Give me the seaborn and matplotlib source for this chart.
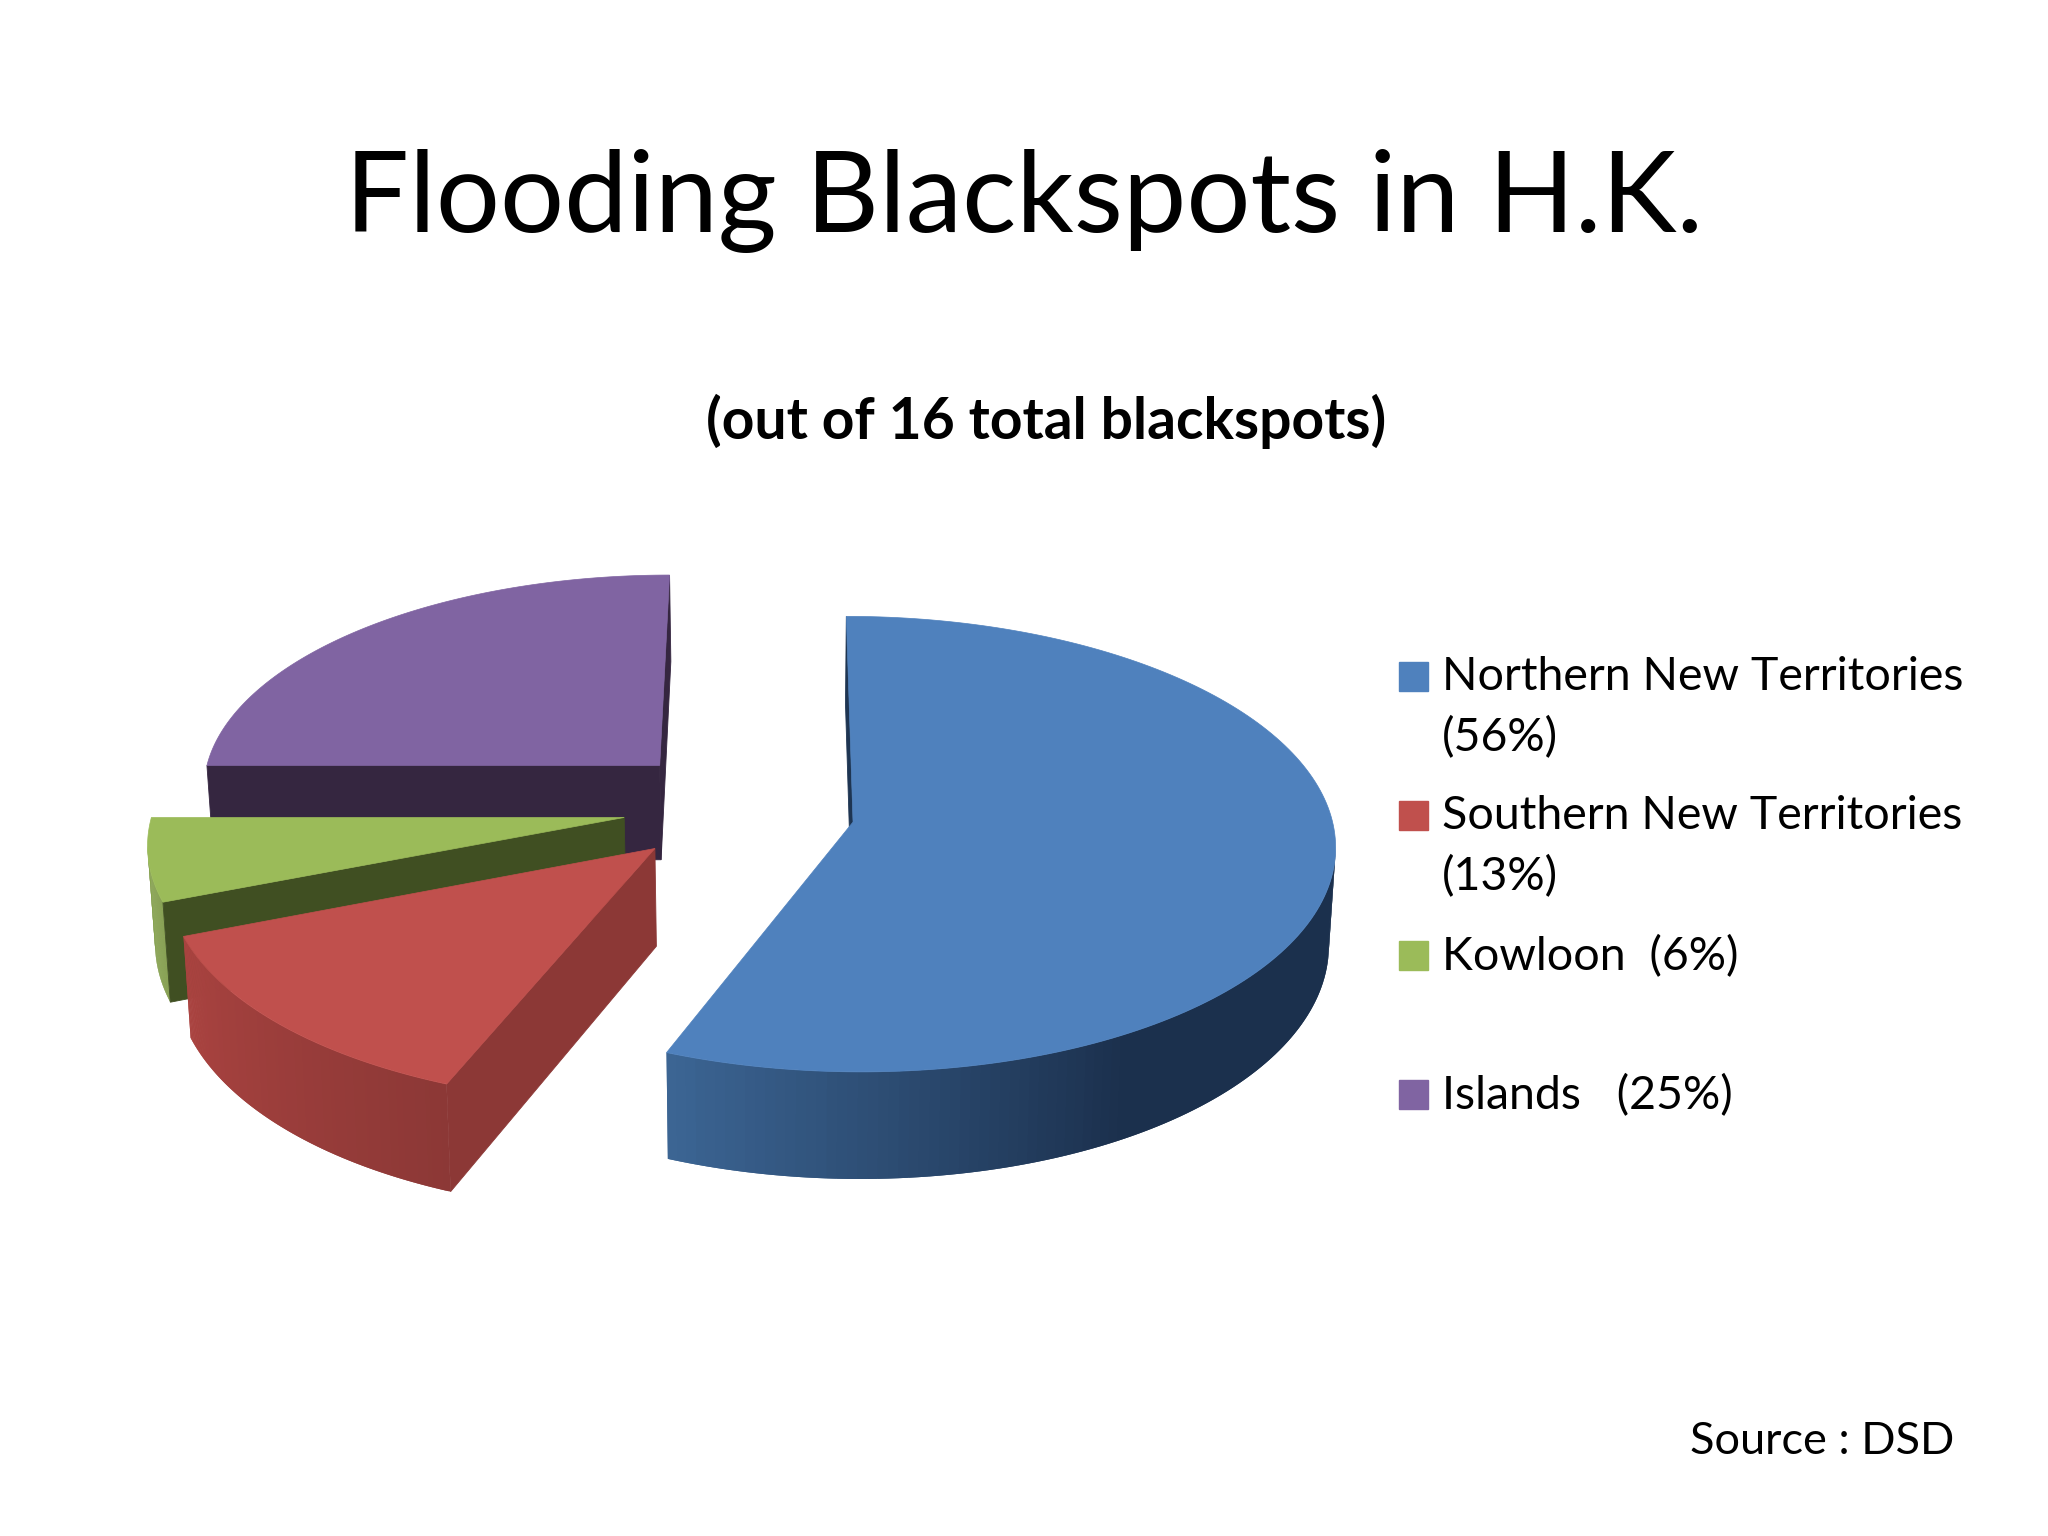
import numpy as np
import matplotlib
matplotlib.use("Agg")
import matplotlib.pyplot as plt
from matplotlib.patches import Rectangle, Patch
from matplotlib.legend_handler import HandlerPatch
import seaborn as sns

# ---- data ----
regions = ["Northern New Territories", "Southern New Territories", "Kowloon", "Islands"]
shares = [56, 13, 6, 25]
legend_labels = ["Northern New Territories\n(56%)", "Southern New Territories\n(13%)",
                 "Kowloon  (6%)\n ", "Islands   (25%)\n "]
title_text = "Flooding Blackspots in H.K."
subtitle_text = "(out of 16 total blackspots)"
source_text = "Source : DSD"

# ---- style ----
sns.set_theme(style="white")
plt.rcParams["font.family"] = ["Lato", "DejaVu Sans"]
top_colors = sns.color_palette(["#4F81BD", "#C0504D", "#9BBB59", "#8064A2"])
side_colors = ["#1E3552", "#8C3836", "#404F22", "#352640"]
rim_light = ["#3C6594", "#AA4340", "#8DAB50", "#5F4A7A"]
rim_dark = ["#1B304D", "#8C3836", "#7F9A48", "#5F4A7A"]
# exploded slice offsets and radius scale, in pie radii
explode_x = [0.157, -0.25, -0.317, -0.249]
explode_y = [0.0, 0.115, -0.02, -0.255]
radius_scale = [0.992, 0.99, 0.98, 0.96]
draw_order = [3, 2, 1, 0]

# perspective model, in 1568x1176 canvas units
VX, VY = 595.0, -1150.0
R_WORLD = 0.208
INV0, INVK = 0.000562, 0.000055
CAM_Y = INV0 / INVK
THICK = 0.0416
BOTTOM_X = 0.988


def project(X, Y, bottom=False):
    d = 1.0 / (INV0 - INVK * np.asarray(Y, float))
    x = VX + np.asarray(X, float) * R_WORLD * d
    y = VY + d
    if bottom:
        x = VX + (x - VX) * BOTTOM_X
        y = y + THICK * d
    return x, y


def arc_xy(ax0, ay0, r, t):
    return ax0 + r * np.sin(t), ay0 - r * np.cos(t)


fig = plt.figure(figsize=(20.48, 15.36), dpi=100)
ax = fig.add_axes([0, 0, 1, 1])
ax.set_xlim(0, 1568)
ax.set_ylim(1176, 0)
ax.axis("off")

edges = np.radians(np.concatenate([[0], np.cumsum(shares)]) * 360.0 / sum(shares))

for i in draw_order:
    t0, t1 = edges[i], edges[i + 1]
    a0, b0, r = explode_x[i], explode_y[i], radius_scale[i]
    ts = np.linspace(t0, t1, 181)
    AX, AY = arc_xy(a0, b0, r, ts)

    # outer rim: each strip overlaps the next one, so that no seams show
    nf = min(t1 - t0, np.radians(52))
    ramp = sns.blend_palette([rim_light[i], rim_dark[i]], 101)
    for k in range(len(ts) - 1):
        tm = 0.5 * (ts[k] + ts[k + 1])
        mx, my = arc_xy(a0, b0, r, tm)
        if np.sin(tm) * (0 - mx) - np.cos(tm) * (CAM_Y - my) <= 0:
            continue
        xt, yt = project(AX[k:k + 3], AY[k:k + 3])
        xb, yb = project(AX[k:k + 3], AY[k:k + 3], bottom=True)
        f = min((t1 - tm) / nf, 1.0)
        c = ramp[int(round(f * 100))]
        ax.fill(np.r_[xt, xb[::-1]], np.r_[yt, yb[::-1]], facecolor=c, edgecolor="none", lw=0)

    # straight cut faces, where they look towards the camera
    for t, sign in ((t0, -1), (t1, 1)):
        nx, ny = sign * np.cos(t), sign * np.sin(t)
        if nx * (0 - a0) + ny * (CAM_Y - b0) <= 0:
            continue
        ex, ey = arc_xy(a0, b0, r, t)
        xt, yt = project([a0, ex], [b0, ey])
        xb, yb = project([a0, ex], [b0, ey], bottom=True)
        ax.fill(np.r_[xt, xb[::-1]], np.r_[yt, yb[::-1]], color=side_colors[i], lw=0.6)

    # top surface
    x, y = project(np.r_[a0, AX], np.r_[b0, AY])
    ax.fill(x, y, color=top_colors[i], lw=0.5)

# ---- texts ----
ax.text(784, 154, title_text, ha="center", va="center", fontsize=81.5, color="black")
ax.text(801, 323, subtitle_text, ha="center", va="center", fontsize=41, fontweight="bold", color="black")
ax.text(1496, 1104, source_text, ha="right", va="center", fontsize=32.5, color="black")

# ---- legend ----
LEG_FS = 33.5


def key_patch(legend, orig_handle, xdescent, ydescent, width, height, fontsize):
    return Rectangle((-xdescent, -ydescent + 0.695 * fontsize), width, width)


handles = [Patch(color=c, label=l) for c, l in zip(top_colors, legend_labels)]
leg = ax.legend(handles=handles, loc="upper left", bbox_to_anchor=(1071, 502),
                bbox_transform=ax.transData, frameon=False, fontsize=LEG_FS,
                handlelength=0.624, handleheight=0.624, handletextpad=0.31,
                labelspacing=0.79, borderpad=0, borderaxespad=0,
                handler_map={Patch: HandlerPatch(patch_func=key_patch)})
for t in leg.get_texts():
    t.set_linespacing(1.516)
    t.set_color("black")

fig.savefig("out.png", dpi=100, facecolor="white")
